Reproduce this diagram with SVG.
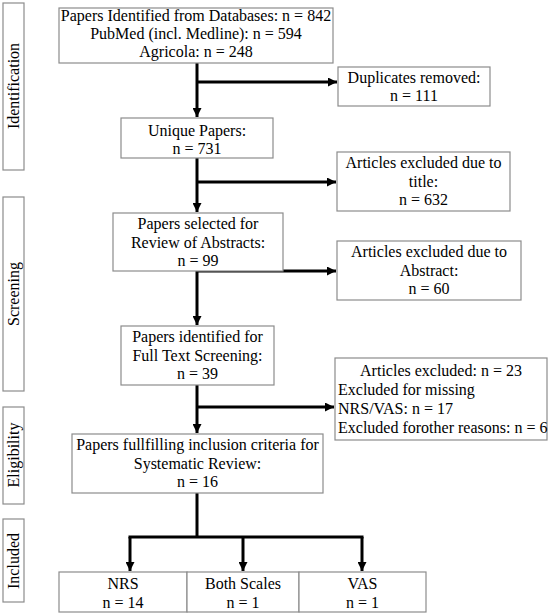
<svg xmlns="http://www.w3.org/2000/svg" width="550" height="615" viewBox="0 0 550 615" font-family="'Liberation Serif', 'Times New Roman', Times, serif" font-size="16">
<style>
.box{fill:#fff;stroke:#8c8c8c;stroke-width:1.2}
.side{fill:#fff;stroke:#8c8c8c;stroke-width:1.2}
.c{text-anchor:middle}
.conn{fill:none;stroke:#000;stroke-width:3}
</style>
<defs>
<marker id="ah" viewBox="0 0 10 10" refX="10" refY="5" markerWidth="3" markerHeight="3" orient="auto" markerUnits="strokeWidth">
<path d="M0,0 L10,5 L0,10 z" fill="#000"/>
</marker>
</defs>
<rect width="550" height="615" fill="#fff"/>

<g id="stage-identification"><rect class="side" x="3" y="3" width="21" height="167"/><text class="c" font-family="Liberation Serif, serif" transform="translate(19,86) rotate(-90)">Identification</text></g>
<g id="stage-screening"><rect class="side" x="3" y="197" width="21" height="194"/><text class="c" font-family="Liberation Serif, serif" transform="translate(19,294) rotate(-90)">Screening</text></g>
<g id="stage-eligibility"><rect class="side" x="3" y="407" width="21" height="97"/><text class="c" font-family="Liberation Serif, serif" transform="translate(19,455) rotate(-90)">Eligibility</text></g>
<g id="stage-included"><rect class="side" x="3" y="519" width="21" height="83"/><text class="c" font-family="Liberation Serif, serif" transform="translate(19,561) rotate(-90)">Included</text></g>

<g id="connectors">
<path class="conn" d="M197,63 V117" marker-end="url(#ah)"/>
<path class="conn" d="M197,82 H337" marker-end="url(#ah)"/>
<path class="conn" d="M197,158 V212" marker-end="url(#ah)"/>
<path class="conn" d="M197,182 H336" marker-end="url(#ah)"/>
<path class="conn" d="M197,271 V325" marker-end="url(#ah)"/>
<path class="conn" d="M197,271 H336" marker-end="url(#ah)"/>
<path class="conn" d="M197,385 V433" marker-end="url(#ah)"/>
<path class="conn" d="M197,407 H334" marker-end="url(#ah)"/>
<path class="conn" d="M197,493 V537 M128.5,537 H363.5"/>
<path class="conn" d="M130,537 V571" marker-end="url(#ah)"/>
<path class="conn" d="M243,537 V571" marker-end="url(#ah)"/>
<path class="conn" d="M362,537 V571" marker-end="url(#ah)"/>
</g>

<g id="n-identified" font-family="Liberation Serif, serif"><rect class="box" x="59" y="8" width="274" height="55"/>
<text class="c" x="196" y="21">Papers Identified from Databases: n = 842</text>
<text class="c" x="196" y="39">PubMed (incl. Medline): n = 594</text>
<text class="c" x="196" y="57">Agricola: n = 248</text></g>

<g id="n-duplicates" font-family="Liberation Serif, serif"><rect class="box" x="338" y="67" width="152" height="39"/>
<text class="c" x="414" y="83">Duplicates removed:</text>
<text class="c" x="414" y="101">n = 111</text></g>

<g id="n-unique" font-family="Liberation Serif, serif"><rect class="box" x="121" y="118" width="152" height="40"/>
<text class="c" x="197" y="136">Unique Papers:</text>
<text class="c" x="197" y="154">n = 731</text></g>

<g id="n-title" font-family="Liberation Serif, serif"><rect class="box" x="337" y="152" width="173" height="59"/>
<text class="c" x="423.5" y="168">Articles excluded due to</text>
<text class="c" x="423.5" y="187">title:</text>
<text class="c" x="423.5" y="205">n = 632</text></g>

<g id="n-selected" font-family="Liberation Serif, serif"><rect class="box" x="113" y="213" width="170" height="58"/>
<text class="c" x="198" y="229">Papers selected for</text>
<text class="c" x="198" y="248">Review of Abstracts:</text>
<text class="c" x="198" y="266">n = 99</text></g>

<g id="n-abstract" font-family="Liberation Serif, serif"><rect class="box" x="337" y="241" width="184" height="59"/>
<text class="c" x="429" y="257">Articles excluded due to</text>
<text class="c" x="429" y="276">Abstract:</text>
<text class="c" x="429" y="294">n = 60</text></g>

<g id="n-fulltext" font-family="Liberation Serif, serif"><rect class="box" x="121" y="326" width="153" height="59"/>
<text class="c" x="197.5" y="342">Papers identified for</text>
<text class="c" x="197.5" y="361">Full Text Screening:</text>
<text class="c" x="197.5" y="379">n = 39</text></g>

<g id="n-excluded" font-family="Liberation Serif, serif"><rect class="box" x="335" y="358" width="212" height="82"/>
<text class="c" x="441" y="376">Articles excluded: n = 23</text>
<text x="338" y="395">Excluded for missing</text>
<text x="338" y="414">NRS/VAS: n = 17</text>
<text x="338" y="433">Excluded forother reasons: n = 6</text></g>

<g id="n-included" font-family="Liberation Serif, serif"><rect class="box" x="72" y="434" width="251" height="59"/>
<text class="c" x="197.5" y="450">Papers fullfilling inclusion criteria for</text>
<text class="c" x="197.5" y="469">Systematic Review:</text>
<text class="c" x="197.5" y="487">n = 16</text></g>

<g id="n-nrs" font-family="Liberation Serif, serif"><rect class="box" x="59" y="572" width="128" height="40"/>
<text class="c" x="123" y="589">NRS</text>
<text class="c" x="123" y="608">n = 14</text></g>

<g id="n-both" font-family="Liberation Serif, serif"><rect class="box" x="187" y="572" width="112" height="40"/>
<text class="c" x="243" y="589">Both Scales</text>
<text class="c" x="243" y="608">n = 1</text></g>

<g id="n-vas" font-family="Liberation Serif, serif"><rect class="box" x="299" y="572" width="127" height="40"/>
<text class="c" x="362.5" y="589">VAS</text>
<text class="c" x="362.5" y="608">n = 1</text></g>
</svg>
